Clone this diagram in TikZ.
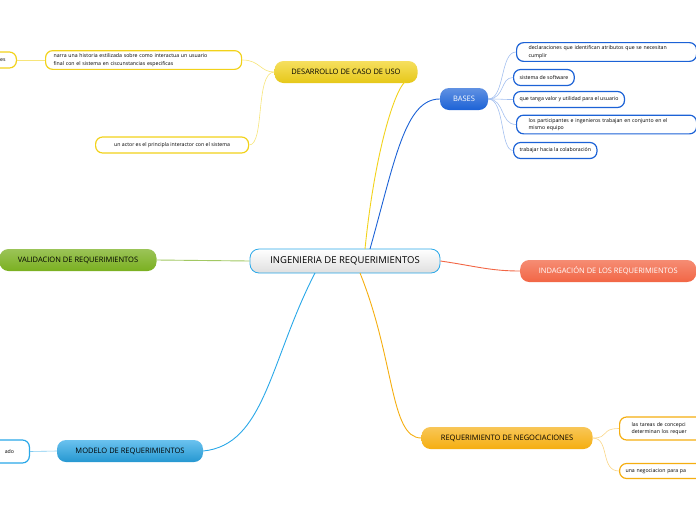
\documentclass[tikz,border=0pt]{standalone}
\usepackage{fontspec}
\setmainfont{Open Sans}
\begin{document}
\begin{tikzpicture}[x=1pt,y=-1pt,
 main/.style={rounded corners=9pt,minimum height=22pt,inner sep=2pt,font=\fontsize{7.5}{9}\selectfont,text=black},
 leaf/.style={draw,line width=1.2pt,rounded corners=7pt,fill=white,align=left,font=\fontsize{5.2}{7.5}\selectfont,inner xsep=8pt,inner ysep=3pt,anchor=west},
 conn/.style={line width=0.9pt}]
\useasboundingbox (0,0) rectangle (696,520);
\definecolor{yel}{HTML}{F2D21A}\definecolor{ylt}{HTML}{F7E57A}
\definecolor{dblue}{HTML}{1C62D6}\definecolor{lblue}{HTML}{2AA8E8}
\definecolor{org}{HTML}{F5AE10}\definecolor{red}{HTML}{F26645}\definecolor{grn}{HTML}{7AB020}
% central
\node[main,draw=lblue,line width=0.8pt,top color=white,bottom color=gray!25,minimum width=190pt,minimum height=24pt,font=\fontsize{9.5}{11}\selectfont] (c) at (345,261) {INGENIERIA DE REQUERIMIENTOS};
\node[main,top color=yel!70,bottom color=yel!95!black,minimum width=143pt] (d) at (346,72) {DESARROLLO DE CASO DE USO};
\node[main,top color=dblue!70,bottom color=dblue,minimum width=48pt,text=white] (b) at (464,99) {BASES};
\node[main,top color=red!75,bottom color=red,minimum width=176pt,text=white,anchor=west] (i) at (520,271) {INDAGACIÓN DE LOS REQUERIMIENTOS};
\node[main,top color=grn!75,bottom color=grn,minimum width=157pt] (v) at (78,260) {VALIDACION DE REQUERIMIENTOS};
\node[main,top color=lblue!70,bottom color=lblue!90!black,minimum width=146pt] (m) at (130,451) {MODELO DE REQUERIMIENTOS};
\node[main,top color=org!70,bottom color=org,minimum width=171pt] (n) at (507,438) {REQUERIMIENTO DE NEGOCIACIONES};
% yellow leaves
\node[leaf,draw=yel,text width=180pt] (d1) at (45,60) {narra una historia estilizada sobre como interactua un usuario\\final con el sistema en ciscunstancias especificas};
\node[leaf,draw=yel,minimum height=16pt,minimum width=153pt,align=center] (d2) at (95,145) {un actor es el principla interactor con el sistema};
\node[leaf,draw=yel,minimum height=16pt,minimum width=27pt,align=right,anchor=east] (d3) at (17,60) {\hfill es};
% blue leaves
\node[leaf,draw=dblue,text width=156pt,inner xsep=12pt] (b1) at (516,52) {declaraciones que identifican atributos que se necesitan\\cumplir};
\node[leaf,draw=dblue,minimum height=16pt,inner xsep=6pt] (b2) at (513,77.5) {sistema de software};
\node[leaf,draw=dblue,minimum height=16pt,inner xsep=6pt] (b3) at (513,99.5) {que tanga valor y utilidad para el usuario};
\node[leaf,draw=dblue,text width=156pt,inner xsep=12pt] (b4) at (516,124.5) {los participantes e ingenieros trabajan en conjunto en el\\mismo equipo};
\node[leaf,draw=dblue,minimum height=16pt,inner xsep=6pt] (b5) at (513,150.5) {trabajar hacia la colaboración};
% orange leaves
\node[leaf,draw=org,text width=90pt,minimum height=23pt,inner xsep=12pt] (n1) at (619,428.5) {las tareas de concepci\\determinan los requer};
\node[leaf,draw=org,text width=90pt,minimum height=15pt,inner xsep=6pt] (n2) at (619,471) {una negociacion para pa};
% light blue leaf
\node[leaf,draw=lblue,minimum width=40pt,minimum height=23pt,anchor=east,align=right] (m1) at (30,451.5) {\hfill ado};
% connectors
\draw[conn,yel] (365,249) .. controls (375,150) and (395,90) .. (405,82);
\draw[conn,dblue] (370,249) .. controls (395,160) and (405,99) .. (b.west);
\draw[conn,red] (c.east) .. controls (475,266) and (490,271) .. (i.west);
\draw[conn,grn!70] (c.west) -- (v.east);
\draw[conn,lblue] (315,273) .. controls (270,360) and (265,445) .. (m.east);
\draw[conn,org] (360,273) .. controls (395,360) and (390,438) .. (n.west);
% leaf connectors
\draw[ylt,line width=0.6pt] (d.west) .. controls (260,72) and (260,60) .. (d1.east);
\draw[ylt,line width=0.6pt] (d.west) .. controls (255,72) and (265,145) .. (d2.east);
\draw[ylt,line width=0.6pt] (d1.west) -- (d3.east);
\foreach \k in {b1,b2,b3,b4,b5}
 \draw[dblue!40,line width=0.6pt] (b.east) .. controls (505,99) and (500,0 |- \k.west) .. (\k.west);
\draw[org!50,line width=0.6pt] (n.east) .. controls (610,438) and (600,428.5) .. (n1.west);
\draw[org!50,line width=0.6pt] (n.east) .. controls (610,438) and (600,471) .. (n2.west);
\draw[lblue!60,line width=0.6pt] (m.west) -- (m1.east);
\end{tikzpicture}
\end{document}
